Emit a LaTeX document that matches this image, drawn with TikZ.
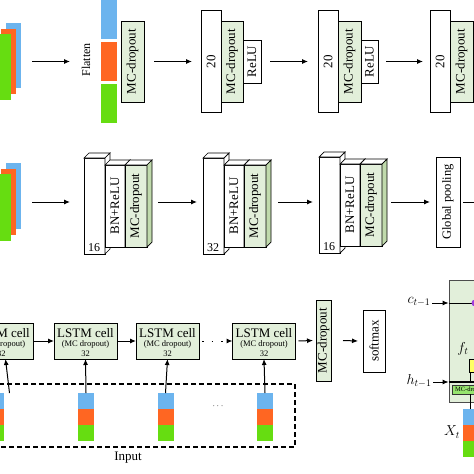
\documentclass[tikz,border=0pt]{standalone}
\usepackage{fontspec}
\setmainfont{Liberation Serif}
\usepackage{graphicx}
\usetikzlibrary{arrows.meta,calc}
\definecolor{cblue}{RGB}{108,180,238}
\definecolor{corange}{RGB}{255,102,34}
\definecolor{cgreen}{RGB}{102,221,17}
\definecolor{mcg}{RGB}{226,239,218}
\definecolor{mcside}{RGB}{192,218,172}
\definecolor{mcbright}{RGB}{150,228,110}
\definecolor{cyel}{RGB}{255,255,100}
\definecolor{cpurple}{RGB}{160,60,220}
\newcommand\cubefaces[3]{%
  \draw[face, fill=#2] (#1.north west) -- ++(5,-5) -- ($(#1.north east)+(5,-5)$) -- (#1.north east) -- cycle;
  \draw[face, fill=#3] (#1.north east) -- ++(5,-5) -- ($(#1.south east)+(5,-5)$) -- (#1.south east) -- cycle;
}
\begin{document}
\begin{tikzpicture}[x=1pt,y=-1pt,
  sz/.style 2 args={minimum width=#1, minimum height=#2},
  colr/.style={inner sep=0pt, outer sep=0pt, draw=none},
  box/.style={draw=black, line width=0.8pt, inner sep=0pt, outer sep=0pt, fill=white, font=\fontsize{13}{13}\selectfont},
  mc/.style={box, fill=mcg},
  arr/.style={line width=1pt, -{Latex[length=6pt,width=5pt]}},
  face/.style={draw=black, line width=0.7pt},
  lbl/.style={font=\fontsize{12}{12}\selectfont, inner sep=1pt},
  mlbl/.style={font=\fontsize{14}{14}\selectfont, inner sep=0pt},
  small/.style={font=\fontsize{8.5}{8.5}\selectfont, inner sep=0pt},
  lstm/.style={box, fill=mcg, sz={63}{36}},
]
\useasboundingbox (0,0) rectangle (474,474);
\clip (0,0) rectangle (474,474);

% ---------- Row 1 ----------
\node[colr, fill=cblue, sz={15}{65}] (s1b) at (13.5,55.5) {};
\node[colr, fill=corange, sz={15}{65}] (s1o) at (8.75,61.5) {};
\node[colr, fill=cgreen, sz={15}{66}] (s1g) at (3.5,67) {};
\node[lbl, rotate=90] (flat) at (86,60) {Flatten};
\node[colr, fill=cblue, sz={16}{40}] (fb) at (109,19) {};
\node[colr, fill=corange, sz={16}{39}] (fo) at (109,61.5) {};
\node[colr, fill=cgreen, sz={16}{39}] (fg) at (109,103.5) {};
\node[mc, sz={23}{81}] (m1) at (132.5,61.5) {\rotatebox{90}{MC-dropout}};

\node[box, sz={20}{102}] (d1) at (211,61.5) {\rotatebox{90}{20}};
\node[mc, sz={22}{81}] (m2) at (232,61.5) {\rotatebox{90}{MC-dropout}};
\node[box, sz={18}{43}] (r2) at (252,61.5) {\rotatebox{90}{ReLU}};

\node[box, sz={20}{102}] (d2) at (328,61.5) {\rotatebox{90}{20}};
\node[mc, sz={23}{81}] (m3) at (349.5,61.5) {\rotatebox{90}{MC-dropout}};
\node[box, sz={17}{43}] (r3) at (369.5,61.5) {\rotatebox{90}{ReLU}};

\node[box, sz={20}{102}] (d3) at (440,61.5) {\rotatebox{90}{20}};
\node[mc, sz={23}{81}] (m4) at (461.5,61.5) {\rotatebox{90}{MC-dropout}};

\draw[arr] ($(s1o.east)+(16,0)$) -- ($(fo.west)+(-31,0)$);
\draw[arr] ($(m1.east)+(10,0)$) -- ($(d1.west)+(-9,0)$);
\draw[arr] ($(r2.east)+(9,0)$) -- ($(d2.west)+(-10,0)$);
\draw[arr] ($(r3.east)+(8,0)$) -- ($(d3.west)+(-7,0)$);

% ---------- Row 2 ----------
\node[colr, fill=cblue, sz={15}{66}] (s2b) at (13.5,196) {};
\node[colr, fill=corange, sz={15}{66}] (s2o) at (8.75,202) {};
\node[colr, fill=cgreen, sz={15}{67}] (s2g) at (3.5,207.5) {};

% block A
\node[box, sz={21}{96}] (cA) at (94.5,206) {};
\cubefaces{cA}{white}{white}
\node[lbl, anchor=south west] at ($(cA.south west)+(3,-1)$) {16};
\node[box, sz={20}{82}] (bnA) at (115,206) {\rotatebox{90}{BN+ReLU}};
\cubefaces{bnA}{white}{white}
\node[mc, sz={22}{82}] (mcA) at (136,206) {\rotatebox{90}{MC-dropout}};
\cubefaces{mcA}{white}{mcside}

% block B
\node[box, sz={21}{96}] (cB) at (213.5,206) {};
\cubefaces{cB}{white}{white}
\node[lbl, anchor=south west] at ($(cB.south west)+(3,-1)$) {32};
\node[box, sz={20}{82}] (bnB) at (234,206) {\rotatebox{90}{BN+ReLU}};
\cubefaces{bnB}{white}{white}
\node[mc, sz={22}{82}] (mcB) at (255,206) {\rotatebox{90}{MC-dropout}};
\cubefaces{mcB}{white}{mcside}

% block C
\node[box, sz={21}{96}] (cC) at (329.5,205) {};
\cubefaces{cC}{white}{white}
\node[lbl, anchor=south west] at ($(cC.south west)+(3,-1)$) {16};
\node[box, sz={20}{82}] (bnC) at (350,205) {\rotatebox{90}{BN+ReLU}};
\cubefaces{bnC}{white}{white}
\node[mc, sz={22}{82}] (mcC) at (371,205) {\rotatebox{90}{MC-dropout}};
\cubefaces{mcC}{white}{mcside}

\node[box, sz={24}{90}, font=\fontsize{12.5}{12.5}\selectfont] (gp) at (448,202) {\rotatebox{90}{Global pooling}};

\draw[arr] ($(s2o.east)+(16,0)$) -- ($(cA.west)+(-14,-4)$);
\draw[arr] ($(mcA.east)+(11,-4)$) -- ($(cB.west)+(-6,-4)$);
\draw[arr] ($(mcB.east)+(12,-4)$) -- ($(cC.west)+(-6,-3)$);
\draw[arr] ($(mcC.east)+(9,-3)$) -- ($(gp.west)+(-6,0)$);
\draw[arr] ($(gp.east)+(3,0)$) -- ++(24,0);

% ---------- Row 3 ----------
\node[draw, dashed, line width=1.2pt, dash pattern=on 5pt off 3pt, sz={334}{63}, inner sep=0pt] (inbox) at (128,415.5) {};
\node[font=\fontsize{13}{13}\selectfont, inner sep=0pt] (inlab) at (128,458) {Input};

\foreach \n/\cx in {0/1.5,1/85.5,2/167.5,3/264}{
  \node[lstm] (L\n) at (\cx,341) {};
  \node[font=\fontsize{13}{13}\selectfont, inner sep=0pt] at ($(L\n.center)+(0,-8)$) {LSTM cell};
  \node[small] at ($(L\n.center)+(0,3)$) {(MC dropout)};
  \node[small] at ($(L\n.center)+(0,13)$) {32};
}
\foreach \n/\bx in {0/-4,1/86,2/165.5,3/265}{
  \node[colr, fill=cblue, sz={16}{16}] (bb\n) at (\bx,401) {};
  \node[colr, fill=corange, sz={16}{16}] (bo\n) at (\bx,417) {};
  \node[colr, fill=cgreen, sz={16}{16}] (bg\n) at (\bx,433) {};
}
\draw[arr] (bb1.north) -- (L1.south);
\draw[arr] (bb2.north) -- (L2.south);
\draw[arr] (bb3.north) -- (L3.south);
\draw[arr] ([xshift=5.5pt]bb0.north east) -- ([xshift=4pt]L0.south);
\node[font=\fontsize{9}{9}\selectfont] (dots) at (218,406) {$\cdots$};

\draw[arr] (L0.east) -- (L1.west);
\draw[arr] (L1.east) -- (L2.west);
\draw[arr, dash pattern=on 1.5pt off 8pt] ($(L2.east)+(3,0)$) -- (L3.west);

\node[mc, sz={15}{81}] (mcD) at (323.5,340.5) {\rotatebox{90}{MC-dropout}};
\node[box, sz={22}{62}] (sm) at (374,341) {\rotatebox{90}{softmax}};
\draw[arr] ($(L3.east)+(3,0)$) -- ($(mcD.west)+(-3,0)$);
\draw[arr] ($(mcD.east)+(12,0)$) -- ($(sm.west)+(-5,0)$);

% ---------- LSTM detail (right) ----------
\node[draw=black!70, line width=0.8pt, fill=mcg, sz={71}{122}, inner sep=0pt] (big) at (484.5,341) {};
\node[mlbl] (clab) at (419,302) {$c_{t-1}$};
\node[mlbl] (hlab) at (419,381) {$h_{t-1}$};
\coordinate (cin) at (big.west |- 0,303);
\coordinate (hin) at (big.west |- 0,382);
\draw[arr] (432,303) -- (cin);
\draw[arr] (433,382) -- (hin);
\draw[line width=1pt] (cin) -- ++(24,0);
\draw[line width=1.8pt] (hin) -- ++(40,0);
\node[circle, fill=cpurple, inner sep=0pt, minimum size=7pt] (pdot) at (475,303) {};
\node[mlbl] (ft) at (463,349) {$f_t$};
\node[draw=black, line width=0.7pt, fill=cyel, sz={31}{13}, inner sep=0pt] (yb) at (484.5,365.5) {};
\draw[line width=1pt] (470.7,372) -- (470.7,382);
\node[draw=black!80, line width=0.7pt, fill=mcbright, sz={48}{9}, inner sep=0pt, font=\fontsize{6.5}{6.5}\selectfont] (mcr) at (476,389.5) {\makebox[42pt][l]{MC-dropout}};
\node[colr, fill=cblue, sz={16}{16}] (xb) at (471,417) {};
\node[colr, fill=corange, sz={16}{16}] (xo) at (471,433) {};
\node[colr, fill=cgreen, sz={16}{16}] (xg) at (471,449) {};
\draw[line width=1pt] (xb.north -| 470,0) -- (470,394);
\node[mlbl] (xlab) at (452,432) {$X_t$};
\end{tikzpicture}
\end{document}
